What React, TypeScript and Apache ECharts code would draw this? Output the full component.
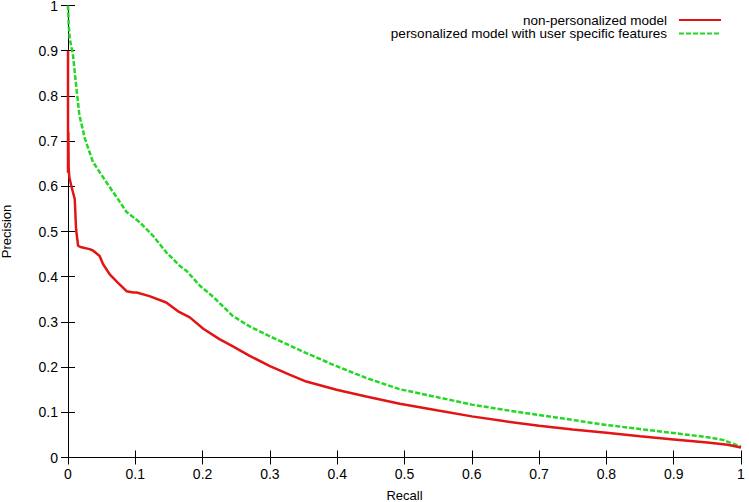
import React, { useEffect, useRef } from "react";
import * as echarts from "echarts";

const recallRed = [0, 0, 0.0005, 0.001, 0.002, 0.005, 0.01, 0.012, 0.015, 0.02, 0.032, 0.037, 0.047, 0.052, 0.062, 0.074, 0.087, 0.097, 0.102, 0.121, 0.146, 0.165, 0.181, 0.201, 0.225, 0.245, 0.27, 0.3, 0.33, 0.354, 0.399, 0.443, 0.493, 0.55, 0.6, 0.65, 0.7, 0.75, 0.8, 0.85, 0.9, 0.95, 0.98, 1.0];
const precisionRed = [0.9, 0.63, 0.72, 0.64, 0.62, 0.6, 0.572, 0.505, 0.468, 0.465, 0.461, 0.458, 0.446, 0.428, 0.405, 0.387, 0.368, 0.365, 0.365, 0.357, 0.343, 0.322, 0.31, 0.285, 0.262, 0.246, 0.225, 0.202, 0.183, 0.168, 0.15, 0.135, 0.119, 0.104, 0.091, 0.08, 0.07, 0.062, 0.055, 0.047, 0.04, 0.033, 0.028, 0.022];

const recallGreen = [0, 0.001, 0.0025, 0.0074, 0.0125, 0.017, 0.025, 0.037, 0.057, 0.075, 0.087, 0.107, 0.126, 0.146, 0.166, 0.176, 0.196, 0.216, 0.245, 0.27, 0.3, 0.354, 0.399, 0.443, 0.493, 0.55, 0.6, 0.65, 0.7, 0.75, 0.8, 0.85, 0.9, 0.95, 0.973, 1.0];
const precisionGreen = [1.0, 0.96, 0.928, 0.89, 0.817, 0.757, 0.706, 0.654, 0.609, 0.57, 0.543, 0.52, 0.491, 0.454, 0.424, 0.413, 0.38, 0.355, 0.313, 0.29, 0.268, 0.231, 0.202, 0.176, 0.151, 0.133, 0.117, 0.105, 0.094, 0.083, 0.072, 0.063, 0.054, 0.045, 0.039, 0.024];

const seriesNames = ["non-personalized model", "personalized model with user specific features"];

const FONT = "'Liberation Sans', Arial, Helvetica, sans-serif";

export default function App() {
  const ref = useRef<HTMLDivElement>(null);
  useEffect(() => {
    document.body.style.margin = "0";
    const chart = echarts.init(ref.current!, null, { renderer: "svg" });
    const redData = recallRed.map((x, i) => [x, precisionRed[i]]);
    const greenData = recallGreen.map((x, i) => [x, precisionGreen[i]]);
    const axisCommon = {
      type: "value" as const,
      min: 0,
      max: 1,
      interval: 0.1,
      axisLine: { show: true, lineStyle: { color: "#000", width: 1 } },
      axisTick: { show: true, inside: true, length: 7, lineStyle: { color: "#000", width: 1 } },
      splitLine: { show: false },
    };
    const legendCommon = {
      right: 22,
      align: "right" as const,
      itemWidth: 42,
      itemHeight: 12,
      itemStyle: { opacity: 0 },
      selectedMode: false,
      textStyle: { fontSize: 13.5, lineHeight: 12, color: "#000", fontFamily: FONT, padding: [0, 7, 0, 0] },
    };
    chart.setOption({
      animation: false,
      backgroundColor: "#fff",
      textStyle: { fontFamily: FONT },
      grid: { left: 68, right: 8, top: 5.5, bottom: 44.5, containLabel: false, outerBoundsMode: "none" },
      legend: [
        { ...legendCommon, data: [seriesNames[0]], top: 8 },
        { ...legendCommon, data: [seriesNames[1]], top: 21.5 },
      ],
      xAxis: [
        {
          ...axisCommon,
          position: "bottom",
          name: "Recall",
          nameLocation: "middle",
          nameGap: 31,
          nameTextStyle: { fontSize: 13, color: "#000", fontFamily: FONT },
          axisLabel: { fontSize: 14, color: "#000", margin: 9, fontFamily: FONT },
        },
        {
          ...axisCommon,
          position: "top",
          axisLabel: { show: false },
        },
      ],
      yAxis: [
        {
          ...axisCommon,
          position: "left",
          name: "Precision",
          nameLocation: "middle",
          nameGap: 55,
          nameTextStyle: { fontSize: 13, color: "#000", fontFamily: FONT },
          axisLabel: { fontSize: 14, color: "#000", margin: 10, fontFamily: FONT },
        },
        {
          ...axisCommon,
          position: "right",
          axisLabel: { show: false },
        },
      ],
      series: [
        {
          name: seriesNames[0],
          type: "line",
          data: redData,
          symbol: "none",
          showSymbol: false,
          color: "#e31414",
          lineStyle: { color: "#e31414", width: 2.5 },
          z: 3,
        },
        {
          name: seriesNames[1],
          type: "line",
          data: greenData,
          symbol: "none",
          showSymbol: false,
          color: "#22d822",
          lineStyle: { color: "#22d822", width: 2.5, type: [5, 2] },
          z: 2,
        },
      ],
    });
    return () => chart.dispose();
  }, []);
  return <div ref={ref} style={{ width: 749, height: 502 }} />;
}
